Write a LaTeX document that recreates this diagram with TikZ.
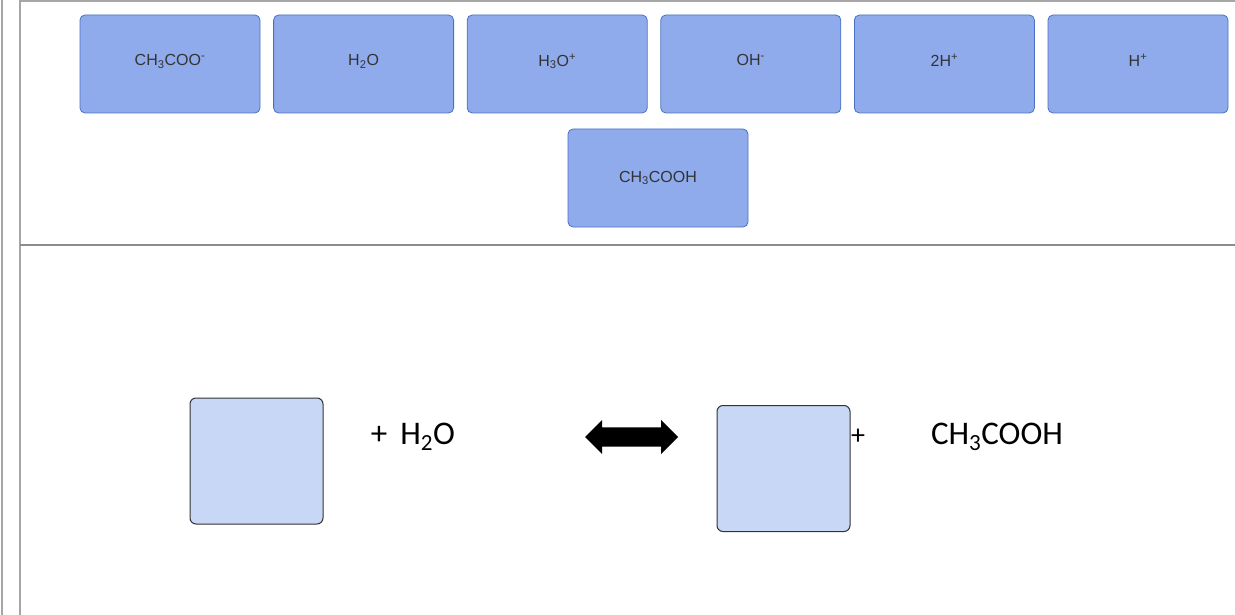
\documentclass[tikz,border=0pt]{standalone}
\usepackage{fontspec}
\setmainfont{Liberation Sans}
\newfontfamily\calib{Carlito}
\usetikzlibrary{positioning,shapes.arrows}

\definecolor{tilefill}{RGB}{143,171,236}
\definecolor{tileline}{RGB}{74,112,196}
\definecolor{slotfill}{RGB}{199,215,245}

\tikzset{
  tile/.style={draw=tileline, fill=tilefill, rounded corners=5pt, line width=0.8pt,
    minimum width=180pt, minimum height=98pt, font=\fontsize{16}{18}\selectfont, text=black!80},
  slot/.style={draw=black!80, fill=slotfill, rounded corners=6pt, line width=1pt,
    minimum width=133pt, minimum height=126pt},
  eqtext/.style={font=\calib\fontsize{33}{35}\selectfont}
}

\begin{document}
\begin{tikzpicture}[x=1pt, y=-1pt]
\useasboundingbox (0,0) rectangle (1235,615);

% frame
\draw [gray!70, line width=1.2pt] (2,0) -- (2,615);
\draw [gray!70, line width=1.2pt] (20,0) -- (20,615);
\draw [gray!70, line width=1.2pt] (20,1) -- (1235,1);
\draw [gray!90, line width=1.2pt] (20,245) -- (1235,245);

% answer tiles
\foreach \l [count=\i from 0] in {CH\textsubscript{3}COO\textsuperscript{-}, H\textsubscript{2}O,
    H\textsubscript{3}O\textsuperscript{+}, OH\textsuperscript{-}, 2H\textsuperscript{+}, H\textsuperscript{+}}
    \node [tile, text depth=8pt] (tile-\i) at (170+\i*193.6, 64) {\l};
\node [tile] (tile-acid) at (658, 178) {CH\textsubscript{3}COOH};

% equation
\node [slot] (slot-1) at (256.5, 461) {};
\node [eqtext] (water) at (413, 437) {+ \,H\textsubscript{2}O};
\node [double arrow, fill=black, minimum height=93pt, minimum width=34pt,
    double arrow head extend=4pt, inner sep=5pt] (eq) at (631.5, 437) {};
\node [slot] (slot-2) at (783.5, 468.5) {};
\node [font=\calib\fontsize{28}{30}\selectfont] (plus) at (858, 437) {+};
\node [eqtext] (acid) at (997, 437) {CH\textsubscript{3}COOH};
\end{tikzpicture}
\end{document}
